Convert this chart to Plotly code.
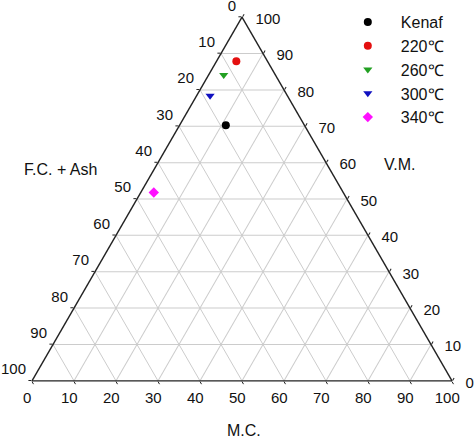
import plotly.graph_objects as go

# sample composition (wt.%)
names = ["Kenaf", "220℃", "260℃", "300℃", "340℃"]
vm = [70.3, 87.9, 84.1, 78.4, 51.8]
fc_ash = [18.7, 7.4, 12.3, 18.4, 45.1]
mc = [11.0, 4.7, 3.6, 3.2, 3.1]

colors = ["black", "#e41010", "#22a022", "#1010c0", "#ff10ff"]
symbols = ["circle", "circle", "triangle-down", "triangle-down", "diamond"]

ticks = list(range(0, 101, 10))
NB = "\u00a0"
# the chart runs counter-clockwise, so every edge shows 100 - value
left_text = [str(100 - t) + "<br>" + NB for t in ticks]
bottom_text = [str(100 - t) + NB * 3 for t in ticks]
# <sub> drops the right-hand labels a few px so they sit level with the ticks
right_text = ["<sub>" + NB * 2 + str(100 - t) + "</sub>" + NB for t in ticks]

fig = go.Figure()
for i in range(len(names)):
    fig.add_trace(go.Scatterternary(
        a=[vm[i]], b=[fc_ash[i]], c=[mc[i]],
        mode="markers",
        name=names[i],
        marker=dict(color=colors[i], symbol=symbols[i], size=8,
                    line=dict(width=0)),
    ))

def axis_style(text, fsize=15):
    return dict(
        title=dict(text=""),
        tickmode="array",
        tickvals=ticks,
        ticktext=text,
        ticks="outside",
        ticklen=3,
        tickcolor="#222",
        linecolor="#222",
        linewidth=1.4,
        gridcolor="#cccccc",
        gridwidth=1,
        showgrid=True,
        tickfont=dict(size=fsize, color="#111"),
    )

fig.update_layout(
    width=474, height=439,
    margin=dict(l=32, r=22, t=17, b=58, autoexpand=False),
    paper_bgcolor="white",
    font=dict(family="Liberation Sans, Arial", color="#111"),
    ternary=dict(
        sum=100,
        bgcolor="white",
        aaxis=axis_style(left_text),
        baxis=axis_style(bottom_text),
        caxis=axis_style(right_text, 15 / 0.7),
    ),
    legend=dict(
        x=0.721, y=1.033, xanchor="left", yanchor="top",
        font=dict(size=16),
        itemwidth=56,
        bgcolor="rgba(0,0,0,0)",
        tracegroupgap=0,
    ),
    annotations=[
        dict(text="F.C. + Ash", x=0.068, y=0.58),
        dict(text="V.M.", x=0.874, y=0.596),
        dict(text="M.C.", x=0.505, y=-0.137),
    ],
)
fig.update_annotations(xref="paper", yref="paper", showarrow=False,
                       xanchor="center", yanchor="middle",
                       font=dict(size=16))

# drop the default 8px body margin so the top "0" label is not clipped
fig.write_html("out.html", config={"displayModeBar": False},
               post_script="document.body.style.margin='0';")
